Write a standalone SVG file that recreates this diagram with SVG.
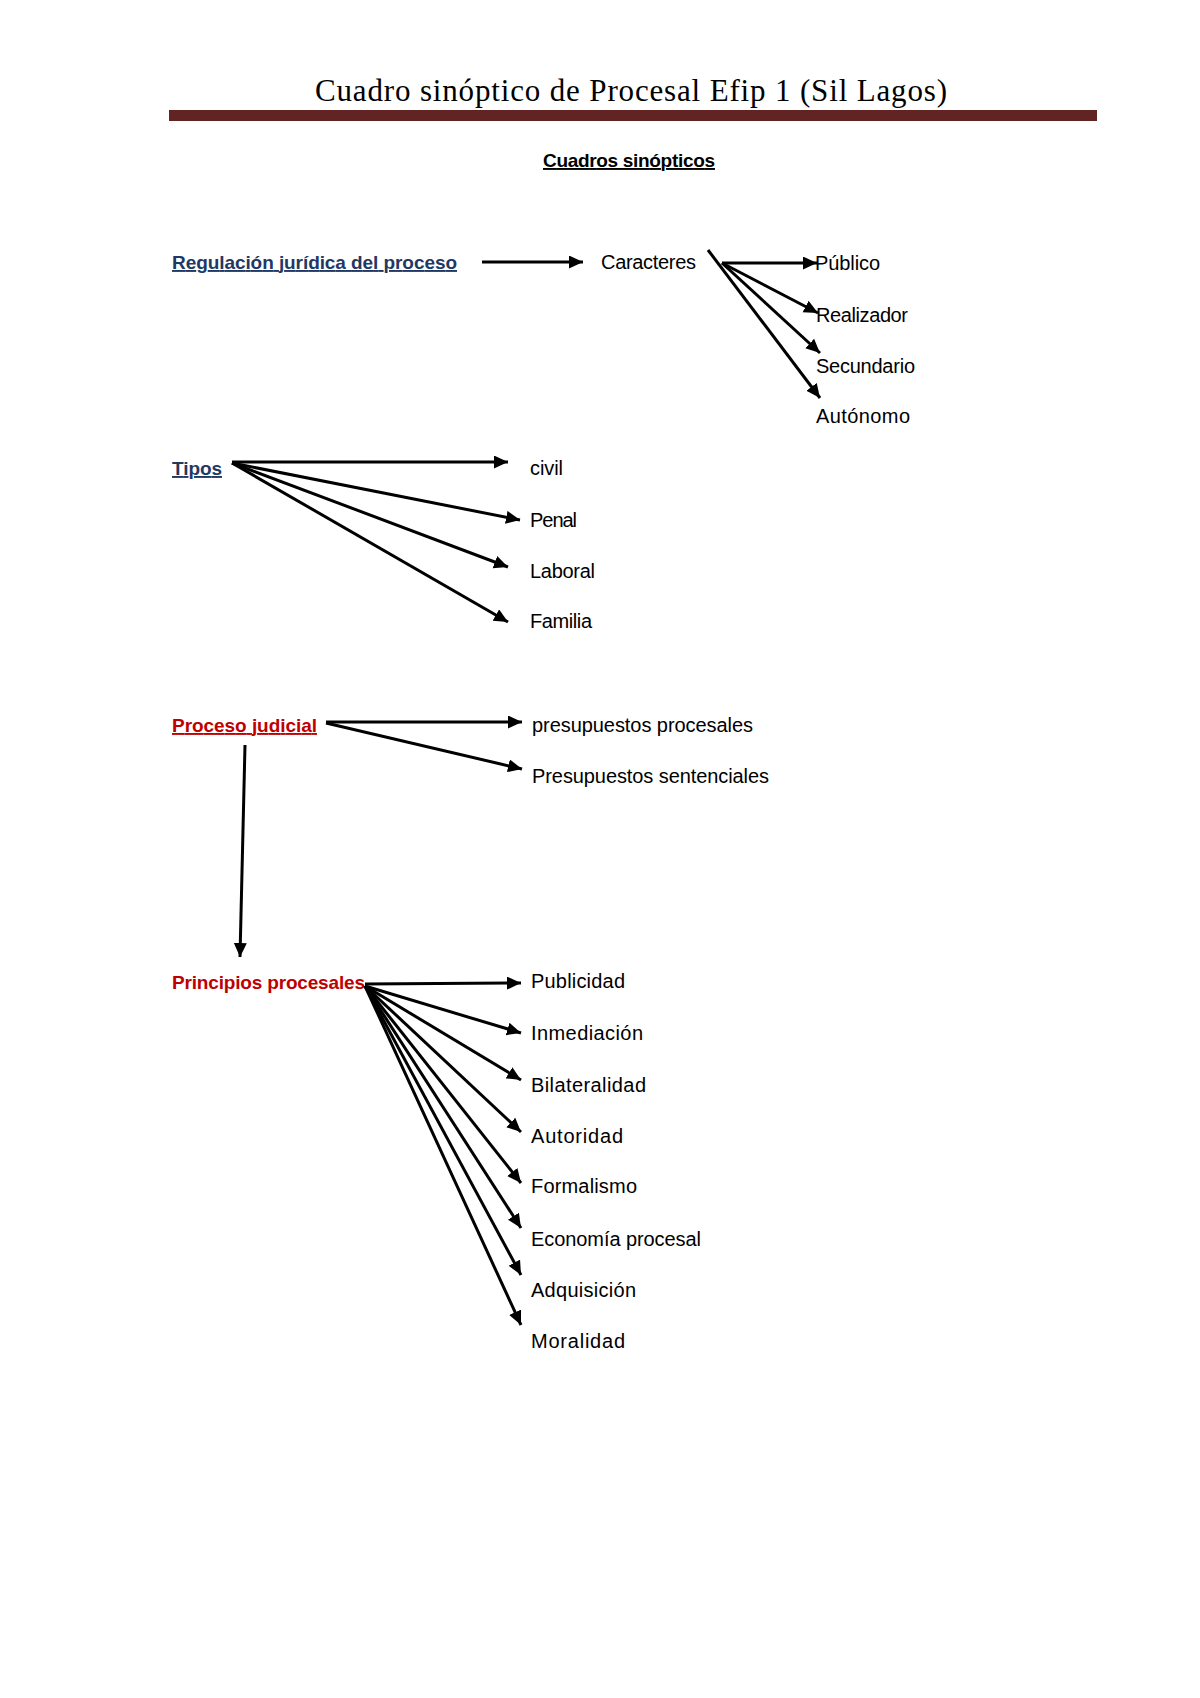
<svg xmlns="http://www.w3.org/2000/svg" width="1200" height="1698" viewBox="0 0 1200 1698">
  <style>
    .lbl { font-family: "Liberation Sans", Arial, sans-serif; font-size: 20px; fill: #000; }
    .hdr { font-family: "Liberation Sans", Arial, sans-serif; font-size: 19px; font-weight: bold; }
    .blue { fill: #1F3864; text-decoration: underline; }
    .red { fill: #C00000; }
    .ul { text-decoration: underline; }
    .conn line { stroke: #000; stroke-width: 3; fill: none; marker-end: url(#arr); }
  </style>
  <defs>
    <marker id="arr" markerUnits="userSpaceOnUse" markerWidth="15" markerHeight="14" refX="14" refY="6.5" orient="auto">
      <path d="M0,0 L14,6.5 L0,13 Z" fill="#000"/>
    </marker>
  </defs>
  <rect width="1200" height="1698" fill="#fff"/>

  <g id="header">
    <text x="315" y="101" font-family="'Liberation Serif', 'Times New Roman', serif" font-size="31" fill="#000" textLength="632">Cuadro sinóptico de Procesal Efip 1 (Sil Lagos)</text>
    <rect x="169" y="110" width="928" height="11" fill="#622423"/>
    <text x="543" y="167" class="hdr ul" fill="#000" textLength="172">Cuadros sinópticos</text>
  </g>

  <g id="regulacion"><text x="172" y="269" class="hdr blue" textLength="285">Regulación jurídica del proceso</text></g>
  <g id="caracteres"><text x="601" y="269" class="lbl" textLength="95">Caracteres</text></g>
  <g id="publico"><text x="815" y="270" class="lbl" textLength="65">Público</text></g>
  <g id="realizador"><text x="816" y="322" class="lbl" textLength="92">Realizador</text></g>
  <g id="secundario"><text x="816" y="373" class="lbl" textLength="99">Secundario</text></g>
  <g id="autonomo"><text x="816" y="423" class="lbl" textLength="94">Autónomo</text></g>

  <g id="tipos"><text x="172" y="475" class="hdr blue" textLength="50">Tipos</text></g>
  <g id="civil"><text x="530" y="475" class="lbl" textLength="33">civil</text></g>
  <g id="penal"><text x="530" y="527" class="lbl" textLength="47">Penal</text></g>
  <g id="laboral"><text x="530" y="578" class="lbl" textLength="65">Laboral</text></g>
  <g id="familia"><text x="530" y="628" class="lbl" textLength="62">Familia</text></g>

  <g id="proceso-judicial"><text x="172" y="732" class="hdr red ul" textLength="145">Proceso judicial</text></g>
  <g id="presupuestos-procesales"><text x="532" y="732" class="lbl" textLength="221">presupuestos procesales</text></g>
  <g id="presupuestos-sentenciales"><text x="532" y="783" class="lbl" textLength="237">Presupuestos sentenciales</text></g>

  <g id="principios-procesales"><text x="172" y="989" class="hdr red" textLength="193">Principios procesales</text></g>
  <g id="publicidad"><text x="531" y="988" class="lbl" textLength="94">Publicidad</text></g>
  <g id="inmediacion"><text x="531" y="1040" class="lbl" textLength="112">Inmediación</text></g>
  <g id="bilateralidad"><text x="531" y="1092" class="lbl" textLength="115">Bilateralidad</text></g>
  <g id="autoridad"><text x="531" y="1143" class="lbl" textLength="92">Autoridad</text></g>
  <g id="formalismo"><text x="531" y="1193" class="lbl" textLength="106">Formalismo</text></g>
  <g id="economia"><text x="531" y="1246" class="lbl" textLength="170">Economía procesal</text></g>
  <g id="adquisicion"><text x="531" y="1297" class="lbl" textLength="105">Adquisición</text></g>
  <g id="moralidad"><text x="531" y="1348" class="lbl" textLength="94">Moralidad</text></g>

  <g id="connectors" class="conn">
    <line x1="482" y1="262" x2="583" y2="262"/>

    <line x1="722" y1="263" x2="817" y2="263"/>
    <line x1="722" y1="263" x2="818" y2="313"/>
    <line x1="722" y1="263" x2="820" y2="353"/>
    <line x1="708" y1="250" x2="820" y2="398"/>

    <line x1="232" y1="462" x2="508" y2="462"/>
    <line x1="232" y1="463" x2="520" y2="520"/>
    <line x1="232" y1="463" x2="508" y2="567"/>
    <line x1="232" y1="463" x2="508" y2="622"/>

    <line x1="326" y1="722" x2="522" y2="722"/>
    <line x1="326" y1="723" x2="522" y2="769"/>
    <line x1="245" y1="745" x2="240" y2="957"/>

    <line x1="365" y1="984" x2="521" y2="983"/>
    <line x1="365" y1="986" x2="521" y2="1033"/>
    <line x1="365" y1="986" x2="521" y2="1080"/>
    <line x1="365" y1="986" x2="521" y2="1132"/>
    <line x1="365" y1="986" x2="521" y2="1183"/>
    <line x1="365" y1="986" x2="521" y2="1228"/>
    <line x1="365" y1="986" x2="521" y2="1275"/>
    <line x1="365" y1="986" x2="521" y2="1325"/>
  </g>
</svg>
